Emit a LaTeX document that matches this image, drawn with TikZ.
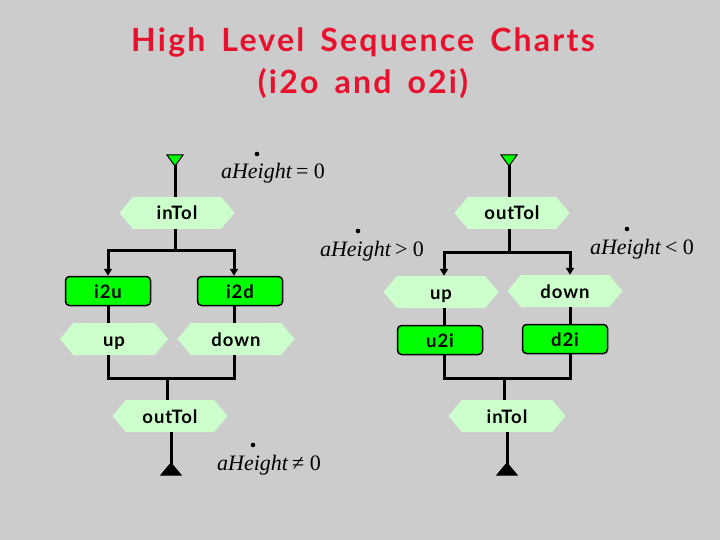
\documentclass[tikz,border=0pt]{standalone}
\usepackage{fontspec}
\setmainfont{Lato}
\newfontfamily\tms{Liberation Serif}
\newfontfamily\ttlfont[LetterSpace=7,WordSpace=1.6]{Lato}
\newfontfamily\boxfont[LetterSpace=5]{Lato}
\usetikzlibrary{shapes.symbols,arrows.meta}
\definecolor{bg}{RGB}{204,204,204}
\definecolor{hexg}{RGB}{204,255,204}
\definecolor{boxg}{RGB}{0,255,0}
\definecolor{titred}{RGB}{232,17,45}
\begin{document}
\begin{tikzpicture}[x=1pt,y=-1pt,
  hexa/.style={signal, signal to=east and west, signal pointer angle=100, fill=hexg,
    inner sep=0pt, minimum height=32pt, minimum width=115pt, text height=16pt, text depth=2pt,
    font=\boxfont\fontsize{18.5}{20}\selectfont\bfseries},
  gbox/.style={rectangle, rounded corners=4pt, draw=black, line width=1.5pt, fill=boxg,
    minimum width=85pt, minimum height=29pt, inner sep=0pt, text height=16pt, text depth=2pt,
    font=\boxfont\fontsize{18.5}{20}\selectfont\bfseries},
  conn/.style={line width=3pt},
  arr/.style={line width=3pt, -{Triangle[width=8pt,length=7pt]}},
  starttri/.style={fill=boxg, draw=black, line width=1pt},
  endtri/.style={fill=black, draw=black, line width=1pt},
  cond/.style={font=\tms\fontsize{22}{24}\selectfont, inner sep=0pt},
  cdot/.style={fill=black, draw=none},
  ttl/.style={font=\ttlfont\fontsize{32}{42}\selectfont\bfseries, text=titred, align=center}]
\fill[bg] (0,0) rectangle (720,540);
\useasboundingbox (0,0) rectangle (720,540);

\node[ttl] (title) at (363,63) {High Level Sequence Charts\\(i2o and o2i)};

% ---------------- left chart ----------------
\filldraw[starttri] (167,155) -- (183,155) -- (175,166) -- cycle;
\coordinate (sL) at (175,165);
\node[hexa] (hinL) at (177,213) {inTol};
\node[gbox] (i2u) at (108,291) {i2u};
\node[gbox] (i2d) at (240,291) {i2d};
\node[hexa, minimum width=108pt] (upL) at (114,339) {up};
\node[hexa, minimum width=117pt] (downL) at (236,339) {down};
\node[hexa] (outL) at (170,416) {outTol};
\coordinate (LA) at (108,250);
\coordinate (LB) at (234,250);
\coordinate (fL) at (175,250);
\coordinate (jL) at (167,378);
\coordinate (eL) at (171,464);

\draw[conn] (sL) -- (hinL.north -| sL);
\draw[conn] (hinL.south -| fL) -- (fL);
\draw[arr] (fL) -| (LA |- i2u.north);
\draw[arr] (fL) -| (LB |- i2d.north);
\draw[conn] (LA |- i2u.south) -- (LA |- upL.north);
\draw[conn] (LB |- i2d.south) -- (LB |- downL.north);
\draw[conn] (LA |- upL.south) |- (jL);
\draw[conn] (LB |- downL.south) |- (jL);
\draw[conn] (jL) -- (jL |- outL.north);
\draw[conn] (eL |- outL.south) -- (eL);
\filldraw[endtri] (161,475) -- (181,475) -- (171,463) -- cycle;

\fill[cdot] (257,154) circle (2.3);
\node[cond] (c1) at (273,173) {\itshape aHeight\/\,\upshape = 0};
\fill[cdot] (253,445) circle (2.3);
\node[cond] (c2) at (269,465) {\itshape aHeight\/\,\upshape ≠ 0};

% ---------------- right chart ----------------
\filldraw[starttri] (501,155) -- (517,155) -- (509,166) -- cycle;
\coordinate (sR) at (509,165);
\node[hexa] (houtR) at (512,213) {outTol};
\node[hexa] (upR) at (441,292) {up};
\node[hexa] (downR) at (565,291) {down};
\node[gbox] (u2i) at (440,340) {u2i};
\node[gbox] (d2i) at (565,339) {d2i};
\node[hexa, minimum width=117pt] (inR) at (507,416) {inTol};
\coordinate (RA) at (444,252);
\coordinate (RB) at (570,252);
\coordinate (fR) at (509,252);
\coordinate (jR) at (504,378);
\coordinate (eR) at (507,464);

\draw[conn] (sR) -- (houtR.north -| sR);
\draw[conn] (houtR.south -| fR) -- (fR);
\draw[arr] (fR) -| (RA |- upR.north);
\draw[arr] (fR) -| (RB |- downR.north);
\draw[conn] (RA |- upR.south) -- (RA |- u2i.north);
\draw[conn] (RB |- downR.south) -- (RB |- d2i.north);
\draw[conn] (RA |- u2i.south) |- (jR);
\draw[conn] (RB |- d2i.south) |- (jR);
\draw[conn] (jR) -- (jR |- inR.north);
\draw[conn] (eR |- inR.south) -- (eR);
\filldraw[endtri] (497,475) -- (517,475) -- (507,463) -- cycle;

\fill[cdot] (358,231) circle (2.3);
\node[cond] (c3) at (372,251) {\itshape aHeight\/\,\upshape > 0};
\fill[cdot] (627,229) circle (2.3);
\node[cond] (c4) at (642,249) {\itshape aHeight\/\,\upshape < 0};
\end{tikzpicture}
\end{document}
